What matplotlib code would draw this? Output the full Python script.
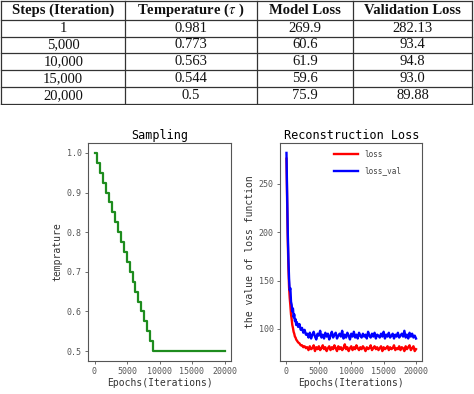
import numpy as np
import matplotlib
matplotlib.use("Agg")
import matplotlib.pyplot as plt

# ---- table data ----
col_headers = ["Steps (Iteration)", r"Temperature ($\tau$ )", "Model Loss", "Validation Loss"]
steps_col = ["1", "5,000", "10,000", "15,000", "20,000"]
temp_col = ["0.981", "0.773", "0.563", "0.544", "0.5"]
model_loss_col = ["269.9", "60.6", "61.9", "59.6", "75.9"]
val_loss_col = ["282.13", "93.4", "94.8", "93.0", "89.88"]

# ---- sampling (temperature) ----
temp_iters = [0, 450, 900, 1350, 1800, 2250, 2700, 3150, 3600, 4050, 4500,
              4950, 5400, 5850, 6300, 6750, 7200, 7650, 8100, 8550, 9000, 20000]
temp_vals = [1.0, 0.975, 0.95, 0.925, 0.9, 0.875, 0.85, 0.825, 0.8, 0.775, 0.75,
             0.725, 0.7, 0.675, 0.65, 0.625, 0.6, 0.575, 0.55, 0.525, 0.5, 0.5]

# ---- reconstruction loss ----
early_iters = [0, 100, 200, 300, 400, 500, 600, 700, 800, 900, 1000, 1100, 1200,
               1300, 1400, 1500, 1600, 1800, 2000, 2200, 2400, 2600, 2800, 3000]
loss_early = [276, 232, 192, 163, 143, 132, 124, 115, 110, 104, 101, 97, 95,
              92, 91, 89, 88, 86, 85, 83, 83, 81, 82, 80]
val_early = [282, 240, 200, 172, 152, 140, 142, 128, 125, 118, 121, 112, 115,
             108, 110, 104, 107, 102, 105, 99, 101, 96, 99, 94]
plateau_iters = np.arange(3200, 20001, 200)
loss_plateau = [81, 78, 82, 79, 80, 83, 77, 81, 79, 82, 78, 80, 83, 79, 81, 77, 80, 82, 78, 81,
                79, 83, 80, 77, 82, 79, 81, 78, 80, 84, 79, 81, 77, 80, 82, 78, 81, 79, 83, 80,
                78, 81, 79, 82, 80, 77, 81, 79, 80, 83, 78, 80, 82, 79, 81, 78, 80, 82, 77, 81,
                79, 80, 82, 78, 81, 79, 80, 83, 78, 80, 79, 82, 78, 81, 80, 77, 82, 79, 81, 83,
                78, 80, 82, 77, 79]
val_plateau = [95, 91, 96, 90, 94, 97, 92, 89, 95, 93, 98, 91, 94, 90, 96, 92, 95, 89, 93, 97,
               91, 94, 96, 90, 93, 95, 92, 98, 90, 94, 91, 96, 93, 89, 95, 92, 97, 91, 94, 90,
               96, 93, 91, 95, 92, 94, 90, 97, 93, 91, 95, 92, 96, 90, 94, 93, 91, 95, 92, 97,
               90, 94, 92, 96, 91, 93, 95, 90, 94, 92, 96, 91, 93, 95, 92, 98, 91, 94, 90, 96,
               92, 95, 91, 93, 90]

W, H = 474, 394
fig = plt.figure(figsize=(W / 100, H / 100), dpi=100)
plt.rcParams['mathtext.fontset'] = 'stix'

# ---- table drawn in pixel coordinates ----
tab_h = 105
tax = fig.add_axes([0, 1 - tab_h / H, 1, tab_h / H])
tax.set_xlim(0, W)
tax.set_ylim(tab_h, 0)
tax.axis("off")
col_edges = [1.5, 125, 257, 353, 472.5]
row_edges = [1, 20, 36.5, 53, 70, 87, 103.5]
for x in col_edges:
    tax.plot([x, x], [row_edges[0], row_edges[-1]], color="#333333", lw=0.9)
for y in row_edges:
    tax.plot([col_edges[0], col_edges[-1]], [y, y], color="#333333", lw=0.9)

serif = "Liberation Serif"
for j, head in enumerate(col_headers):
    cx = (col_edges[j] + col_edges[j + 1]) / 2
    tax.text(cx, (row_edges[0] + row_edges[1]) / 2, head, ha="center", va="center",
             fontsize=10.5, fontweight="bold", family=serif, color="#111111")
columns = [steps_col, temp_col, model_loss_col, val_loss_col]
for j, col in enumerate(columns):
    cx = (col_edges[j] + col_edges[j + 1]) / 2
    for i, val in enumerate(col):
        cy = (row_edges[i + 1] + row_edges[i + 2]) / 2
        tax.text(cx, cy, val, ha="center", va="center", fontsize=10.5,
                 family=serif, color="#111111")

# ---- plots ----
mono = "DejaVu Sans Mono"


def style(ax):
    for s in ax.spines.values():
        s.set_color("#555555")
        s.set_linewidth(0.8)
    ax.tick_params(labelsize=6, colors="#555555", length=2.5, width=0.6, pad=2)
    for lab in ax.get_xticklabels() + ax.get_yticklabels():
        lab.set_family(mono)


ax1 = fig.add_axes([88 / W, 33 / H, 143 / W, 218 / H])
ax1.step(temp_iters, temp_vals, where="post", color="#1e8c1e", lw=1.6)
ax1.set_title("Sampling", fontsize=8.5, family=mono, pad=3)
ax1.set_xlabel("Epochs(Iterations)", fontsize=7, family=mono, color="#333333", labelpad=1)
ax1.set_ylabel("temprature", fontsize=7, family=mono, color="#333333", labelpad=3)
ax1.set_xticks([0, 5000, 10000, 15000, 20000])
ax1.set_yticks([0.5, 0.6, 0.7, 0.8, 0.9, 1.0])
style(ax1)

ax2 = fig.add_axes([280 / W, 33 / H, 142.5 / W, 218 / H])
ax2.plot(list(early_iters) + list(plateau_iters), loss_early + loss_plateau,
         color="red", lw=1.7, label="loss")
ax2.plot(list(early_iters) + list(plateau_iters), val_early + val_plateau,
         color="blue", lw=1.7, label="loss_val")
ax2.set_title("Reconstruction Loss", fontsize=8.5, family=mono, pad=3)
ax2.set_xlabel("Epochs(Iterations)", fontsize=7, family=mono, color="#333333", labelpad=1)
ax2.set_ylabel("the value of loss function", fontsize=7, family=mono, color="#333333", labelpad=3)
ax2.set_xticks([0, 5000, 10000, 15000, 20000])
ax2.set_yticks([100, 150, 200, 250])
style(ax2)
leg = ax2.legend(loc="upper right", frameon=False, prop={"family": mono, "size": 5.5},
                 handlelength=3.2, labelspacing=1.0, borderaxespad=0.5,
                 bbox_to_anchor=(0.9, 1.0))
for t in leg.get_texts():
    t.set_color("#444444")

fig.savefig("out.png", dpi=100)
